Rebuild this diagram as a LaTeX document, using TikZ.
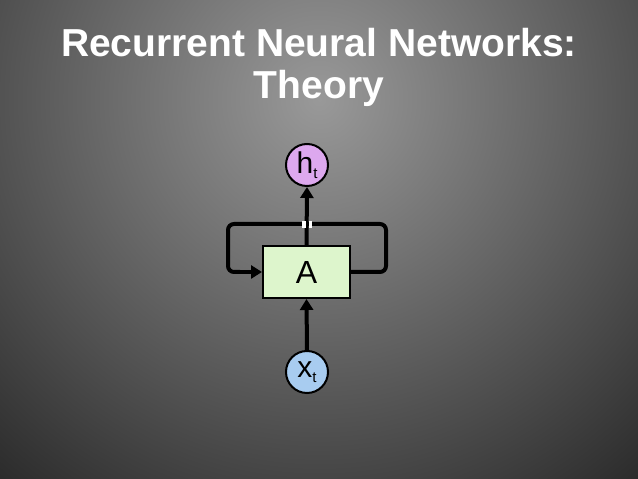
\documentclass[tikz,border=0pt]{standalone}
\usepackage{fontspec}
\setmainfont{Liberation Sans}
\usetikzlibrary{arrows.meta,shadings}
\definecolor{hcol}{HTML}{DDA8EE}
\definecolor{xcol}{HTML}{A8CCF0}
\definecolor{acol}{HTML}{DDF5CC}
\begin{document}
\begin{tikzpicture}[x=1pt,y=1pt,
  conn/.style={line width=4pt,-{Triangle[length=11pt,width=13pt]}},
  loop/.style={line width=4pt,rounded corners=6pt},
  circ/.style={circle,draw=black,line width=2pt,minimum size=42pt,inner sep=0pt,font=\fontsize{30}{30}\selectfont},
  title/.style={text=white,font=\bfseries\fontsize{39}{42}\selectfont,align=center}]
\useasboundingbox (0,0) rectangle (638,479);
\clip (0,0) rectangle (638,479);
\shade[inner color=black!40, outer color=black!85] (319,380) circle (520);
\node[title] (t) at (319,412) {Recurrent Neural Networks:\\Theory};
\node[draw=black,line width=2pt,fill=acol,minimum width=87pt,minimum height=52pt,font=\fontsize{32}{32}\selectfont] (A) at (306.5,207) {A};
\node[circ,fill=hcol] (h) at (307,314) {h\raisebox{-0.3ex}{\fontsize{15}{15}\selectfont t}};
\node[circ,fill=xcol] (x) at (307,107) {x\raisebox{-0.3ex}{\fontsize{15}{15}\selectfont t}};
\coordinate (r) at (386,207);
\draw[loop] (A.east) -- (386,207) -- (386,255) -- (228,255) -- (228,207) -- (240,207);
\draw[conn] (240,207) -- (A.west);
\draw[conn] (A.north) -- (h.south);
\draw[conn] (x.north) -- (A.south);
\fill[white] (302,251) rectangle (305.5,258);
\fill[white] (308.5,251) rectangle (312,258);
\end{tikzpicture}
\end{document}
